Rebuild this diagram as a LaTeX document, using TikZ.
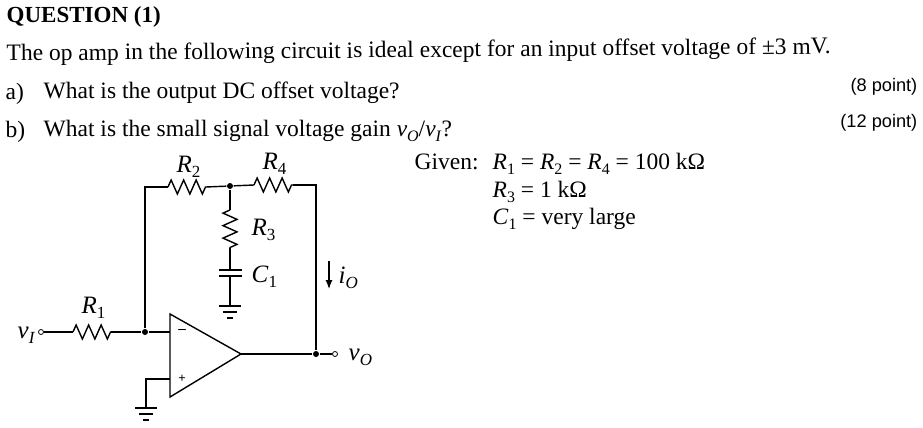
\documentclass[tikz,border=0pt]{standalone}
\usepackage{fontspec}
\setmainfont{Liberation Serif}
\newfontfamily\pointfont{Liberation Sans}
\usetikzlibrary{decorations.pathmorphing,arrows.meta}
\newcommand{\sym}[2]{\textit{#1}\raisebox{-0.22em}{\scalebox{0.68}{#2}}}

\begin{document}
\begin{tikzpicture}[x=1pt,y=-1pt,line width=1.4pt,
  txt/.style={anchor=base west,inner sep=0pt,font=\fontsize{23.5}{26}\selectfont},
  lbl/.style={anchor=base west,inner sep=0pt,font=\fontsize{25}{27}\selectfont},
  pts/.style={anchor=base east,inner sep=0pt,font=\pointfont\fontsize{18.2}{20}\selectfont},
  dot/.style={circle,fill=black,inner sep=0pt,minimum size=6pt},
  port/.style={circle,draw,fill=white,line width=0.8pt,inner sep=0pt,minimum size=5pt},
  res/.style={decorate,decoration={zigzag,segment length=12.5pt,amplitude=7pt}}]
  \useasboundingbox (0,0) rectangle (923,428);

  % question text
  \node[txt,font=\bfseries\fontsize{23}{26}\selectfont] (title) at (6,23) {QUESTION (1)};
  \node[txt,rotate=0.5] (intro) at (6,61) {The op amp in the following circuit is ideal except for an input offset voltage of ±3 mV.};
  \node[txt] (parta) at (5,99) {a)};
  \node[txt] (texta) at (43,98) {What is the output DC offset voltage?};
  \node[txt] (partb) at (5,137) {b)};
  \node[txt] (textb) at (43,136) {What is the small signal voltage gain \sym{v}{\textit{O}}/\sym{v}{\textit{I}}?};
  \node[pts] (pointa) at (918,91) {(8 point)};
  \node[pts] (pointb) at (918,127) {(12 point)};
  \node[txt] (given) at (414,169) {Given:};
  \node[txt] (givena) at (492,169) {\sym{R}{1} = \sym{R}{2} = \sym{R}{4} = 100 kΩ};
  \node[txt] (givenb) at (492,197) {\sym{R}{3} = 1 kΩ};
  \node[txt] (givenc) at (492,224) {\sym{C}{1} = very large};

  % circuit points
  \coordinate (topl) at (145,187);
  \coordinate (r2a) at (168,187);
  \coordinate (r2b) at (206,187);
  \node[dot] (mid) at (230,186) {};
  \coordinate (r4a) at (254,185);
  \coordinate (r4b) at (293,185);
  \coordinate (topr) at (316,185);
  \coordinate (r3a) at (230,210);
  \coordinate (r3b) at (230,248);
  \coordinate (capt) at (230,270);
  \coordinate (capb) at (230,276);
  \coordinate (gnda) at (230,306);
  \node[port] (vin) at (41,332) {};
  \coordinate (r1a) at (73,332);
  \coordinate (r1b) at (111,332);
  \node[dot] (inv) at (145,332) {};
  \coordinate (ampa) at (170,314);
  \coordinate (ampb) at (170,397);
  \coordinate (ampc) at (241,354);
  \coordinate (minus) at (170,332);
  \coordinate (plus) at (170,379);
  \coordinate (plusl) at (146,379);
  \coordinate (gndb) at (146,408);
  \node[dot] (out) at (316,354) {};
  \node[port] (vout) at (335,354) {};
  \coordinate (ioa) at (329,261);
  \coordinate (iob) at (329,289);

  % wires
  \draw (inv) -- (topl) -- (r2a);
  \draw[res] (r2a) -- (r2b);
  \draw (r2b) -- (mid) -- (r4a);
  \draw[res] (r4a) -- (r4b);
  \draw (r4b) -- (topr) -- (out);
  \draw (mid) -- (r3a);
  \draw[res,decoration={mirror}] (r3a) -- (r3b);
  \draw (r3b) -- (capt);
  \draw (capb) -- (gnda);
  \draw (vin) -- (r1a);
  \draw[res] (r1a) -- (r1b);
  \draw (r1b) -- (inv) -- (minus);
  \draw (plus) -- (plusl) -- (gndb);
  \draw (ampc) -- (out) -- (vout);
  \draw[line join=miter] (ampa) -- (ampb) -- (ampc) -- cycle;

  % capacitor and grounds
  \draw ([xshift=-11pt]capt) -- ([xshift=12pt]capt);
  \draw ([xshift=-11pt]capb) -- ([xshift=12pt]capb);
  \foreach \g in {gnda,gndb} {
    \draw ([xshift=-11pt]\g) -- ([xshift=11pt]\g);
    \draw ([xshift=-7pt,yshift=-6pt]\g) -- ([xshift=7pt,yshift=-6pt]\g);
    \draw ([xshift=-3pt,yshift=-12pt]\g) -- ([xshift=3pt,yshift=-12pt]\g);
  }

  % labels
  \node[inner sep=0pt,font=\bfseries\fontsize{15}{15}\selectfont] (mlabel) at (182,331) {--};
  \node[inner sep=0pt,font=\bfseries\fontsize{13}{13}\selectfont] (plabel) at (182,379) {+};
  \draw[-{Latex[length=9pt,width=7pt]},line width=1.2pt] (ioa) -- (iob);
  \node[lbl] (lr1) at (81,313) {\sym{R}{1}};
  \node[lbl] (lr2) at (176,172) {\sym{R}{2}};
  \node[lbl] (lr4) at (262,169) {\sym{R}{4}};
  \node[lbl] (lr3) at (251,235) {\sym{R}{3}};
  \node[lbl] (lc1) at (251,282) {\sym{C}{1}};
  \node[lbl] (lio) at (338,283) {\sym{i}{\textit{O}}};
  \node[lbl] (lvi) at (17,338) {\sym{v}{\textit{I}}};
  \node[lbl] (lvo) at (348,360) {\sym{v}{\textit{O}}};
\end{tikzpicture}
\end{document}
